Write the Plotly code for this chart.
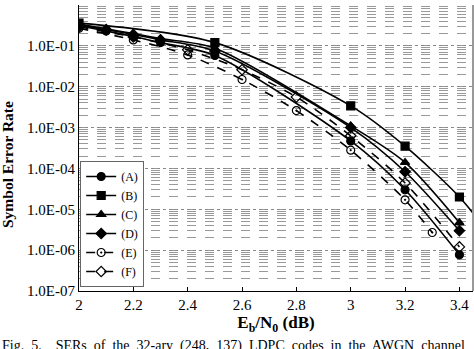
import plotly.graph_objects as go

# ---- data ----
x_A = [2.0, 2.1, 2.2, 2.3, 2.5, 3.0, 3.2, 3.4]
y_A = [0.31, 0.23, 0.17, 0.12, 0.058, 4.7e-4, 3.0e-5, 7.7e-7]

x_B = [2.0, 2.5, 3.0, 3.2, 3.4, 3.5]
y_B = [0.36, 0.12, 3.4e-3, 3.5e-4, 2.0e-5, 3.0e-6]

x_C = [2.0, 2.1, 2.2, 2.3, 2.5, 3.0, 3.2, 3.4]
y_C = [0.34, 0.26, 0.20, 0.15, 0.088, 1.1e-3, 1.4e-4, 4.7e-6]

x_D = [2.0, 2.1, 2.2, 2.3, 2.5, 3.0, 3.2, 3.4]
y_D = [0.32, 0.25, 0.19, 0.14, 0.075, 1.0e-3, 8.3e-5, 3.0e-6]

x_E = [2.0, 2.2, 2.4, 2.6, 2.8, 3.0, 3.2, 3.3]
y_E = [0.27, 0.14, 0.06, 0.015, 2.6e-3, 2.8e-4, 1.7e-5, 2.7e-6]

x_F = [2.0, 2.2, 2.4, 2.6, 2.8, 3.0, 3.2, 3.4]
y_F = [0.29, 0.165, 0.08, 0.026, 5.6e-3, 6.3e-4, 4.4e-5, 1.2e-6]

names = ["(A)", "(B)", "(C)", "(D)", "(E)", "(F)"]
symbols = ["circle", "square", "triangle-up", "diamond", "circle-open-dot", "diamond-open"]
dashes = ["solid", "solid", "solid", "solid", "dash", "dash"]

xticks = [2, 2.2, 2.4, 2.6, 2.8, 3, 3.2, 3.4]
xticktext = ["2", "2.2", "2.4", "2.6", "2.8", "3", "3.2", "3.4"]
yticks = [1, 1e-1, 1e-2, 1e-3, 1e-4, 1e-5, 1e-6, 1e-7]
yticktext = ["1.0E+00", "1.0E-01", "1.0E-02", "1.0E-03", "1.0E-04", "1.0E-05", "1.0E-06", "1.0E-07"]

series = [(x_A, y_A), (x_B, y_B), (x_C, y_C), (x_D, y_D), (x_E, y_E), (x_F, y_F)]

FONT = "Liberation Serif"
fig = go.Figure()
for (xs, ys), nm, sym, ds in zip(series, names, symbols, dashes):
    fig.add_trace(go.Scatter(
        x=xs, y=ys, name=nm, mode="lines+markers",
        line=dict(color="black", width=1.6, dash=ds, shape="spline", smoothing=0.8),
        marker=dict(symbol=sym, size=8, color="black",
                    line=dict(color="black", width=1.2)),
    ))

PW, PH = 394, 286  # plot area size in px

fig.update_layout(
    width=474, height=349,
    margin=dict(l=79, r=1, t=5, b=58),
    paper_bgcolor="white", plot_bgcolor="white",
    font=dict(family=FONT, size=14, color="black"),
    showlegend=True,
    legend=dict(x=0.003, y=(291 - 161) / PH, xanchor="left", yanchor="top",
                bgcolor="white", bordercolor="#666", borderwidth=1,
                font=dict(family=FONT, size=12), tracegroupgap=0,
                itemwidth=30),
    xaxis=dict(range=[2, 3.45], tickvals=xticks, ticktext=xticktext,
               tickfont=dict(family=FONT, size=15),
               showgrid=False, zeroline=False, showline=True, linecolor="black",
               linewidth=1, ticks="inside", ticklen=4, tickcolor="black",
               mirror=False,
               title=dict(text="<b>E<sub>b</sub>/N<sub>0</sub> (dB)</b>",
                          font=dict(family=FONT, size=17), standoff=4)),
    yaxis=dict(type="log", range=[-7, 0], tickvals=yticks, ticktext=yticktext,
               tickfont=dict(family=FONT, size=15),
               showgrid=True, gridcolor="#888", griddash="dot", gridwidth=1,
               showline=True, linecolor="black", linewidth=1, ticks="",
               minor=dict(dtick="D1", showgrid=True, gridcolor="#999",
                          griddash="dash", gridwidth=1)),
)

# y-axis title as rotated annotation
fig.add_annotation(text="<b>Symbol Error Rate</b>", textangle=-90,
                   xref="paper", yref="paper", x=(8 - 79) / PW, y=(291 - 165) / PH,
                   xanchor="center", yanchor="middle", showarrow=False,
                   font=dict(family=FONT, size=15.5, color="black"))

# right border of the plot area
fig.add_shape(type="line", xref="paper", yref="paper", x0=1, x1=1, y0=0, y1=1,
              line=dict(color="#999", width=2))

fig.add_annotation(text="Fig.  5.    SERs  of  the  32-ary  (248,  137)  LDPC  codes  in  the  AWGN  channel",
                   xref="paper", yref="paper", x=-79 / PW, y=(291 - 336) / PH,
                   xanchor="left", yanchor="top", showarrow=False,
                   font=dict(family=FONT, size=14, color="black"))

fig.write_html("out.html")
